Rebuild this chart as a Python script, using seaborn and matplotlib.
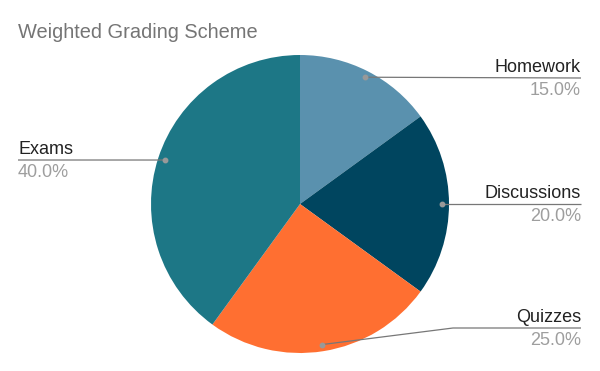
import numpy as np
import matplotlib
matplotlib.use("Agg")
import matplotlib.pyplot as plt
import seaborn as sns

categories = ["Homework", "Discussions", "Quizzes", "Exams"]
weights = [15.0, 20.0, 25.0, 40.0]
colors = ["#5a91ae", "#00455f", "#ff6f31", "#1d7786"]

sns.set_theme(style="white")
plt.rcParams["font.family"] = ["Liberation Sans", "DejaVu Sans"]

W, H = 600, 371
fig = plt.figure(figsize=(6, 3.71), dpi=100)
ax = fig.add_axes([0, 0, 1, 1])

cx, cy, R = 300, H - 204, 149
wedges, _ = ax.pie(weights, colors=colors, startangle=90, counterclock=False,
                   center=(cx, cy), radius=R, frame=True,
                   wedgeprops=dict(linewidth=0))
ax.set_xlim(0, W)
ax.set_ylim(0, H)
ax.set_aspect("equal")
ax.axis("off")

# label layout: (line y in px from top, side, elbow x)
layout = {
    "Homework": (78, "right", None),
    "Discussions": (204, "right", None),
    "Quizzes": (328, "right", 453),
    "Exams": (160, "left", None),
}

for w, name, val in zip(wedges, categories, weights):
    ang = np.deg2rad((w.theta1 + w.theta2) / 2)
    px = cx + 0.955 * R * np.cos(ang)
    py = cy + 0.955 * R * np.sin(ang)
    ly, side, elbow = layout[name]
    ly = H - ly
    if side == "right":
        xe = 581
        if elbow is None:
            xs, ys = [px, xe], [py, ly]
        else:
            xs, ys = [px, elbow, xe], [py, ly, ly]
        ha = "right"
    else:
        xe = 18
        xs, ys = [px, xe], [py, ly]
        ha = "left"
    ax.plot(xs, ys, color="#777777", lw=0.9, solid_capstyle="butt", zorder=3)
    ax.plot([px], [py], "o", color="#999999", ms=3.2, zorder=4)
    ax.text(xe, ly + 2, name, ha=ha, va="bottom", fontsize=13, color="#222222")
    ax.text(xe, ly - 4, f"{val:.1f}%", ha=ha, va="top", fontsize=13, color="#9e9e9e")

fig.text(18 / W, 1 - 32 / H, "Weighted Grading Scheme", ha="left", va="center",
         fontsize=14.4, color="#757575")

fig.savefig("out.png", dpi=100)
